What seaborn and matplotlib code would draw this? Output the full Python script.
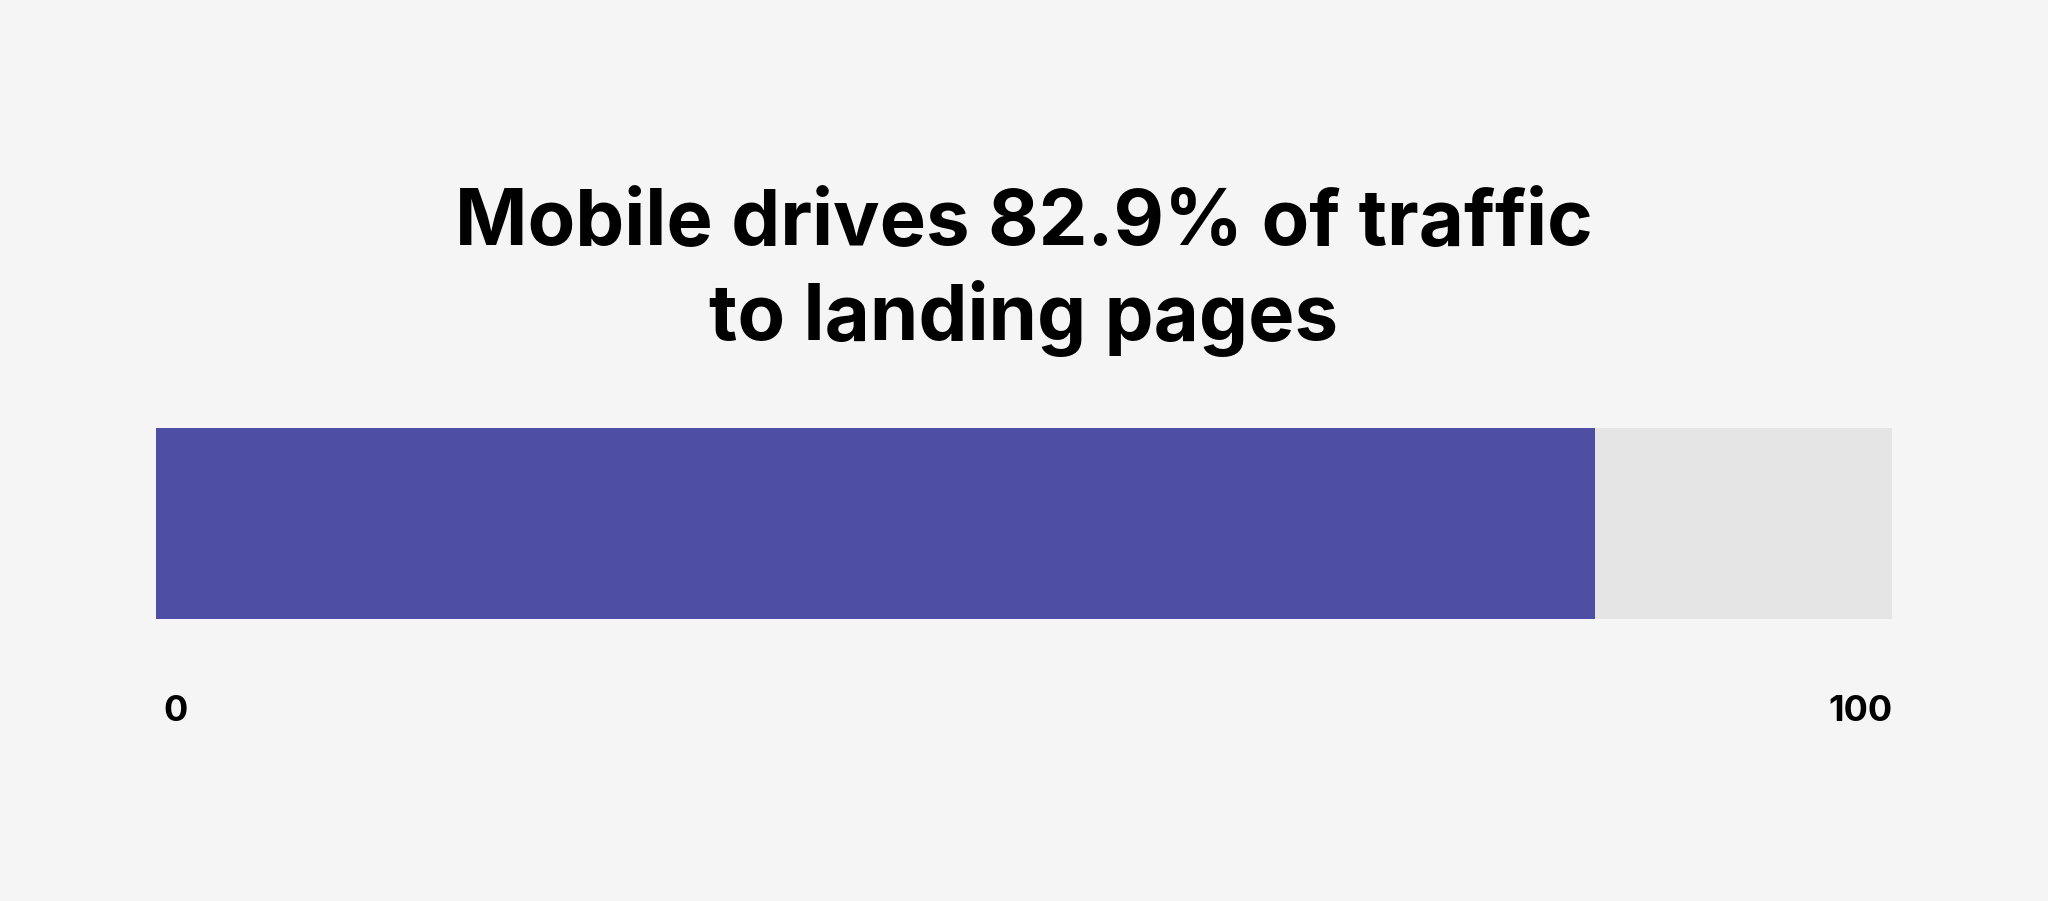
import matplotlib
matplotlib.use("Agg")
import matplotlib.pyplot as plt
import matplotlib.transforms as mtransforms
import seaborn as sns
import pandas as pd

title_lines = ["Mobile drives 82.9% of traffic", "to landing pages"]
categories = ["Mobile"]
share = [82.9]
total = [100]
tick_values = [0, 100]
tick_labels = ["0", "100"]

bg = "#f5f5f5"
purple = "#4e4fa4"
track = "#e5e5e5"

sns.set_theme(style="white")
plt.rcParams["font.family"] = ["Inter", "DejaVu Sans"]

df = pd.DataFrame({"category": categories, "share": share, "total": total})

fig = plt.figure(figsize=(20.48, 9.01), dpi=100, facecolor=bg)
ax = fig.add_axes([156 / 2048, 1 - 619 / 901, (1892 - 156) / 2048, (619 - 428) / 901])
ax.set_facecolor(bg)

sns.barplot(data=df, x="total", y="category", orient="h", color=track, width=1,
            saturation=1, linewidth=0, ax=ax)
sns.barplot(data=df, x="share", y="category", orient="h", color=purple, width=1,
            saturation=1, linewidth=0, ax=ax)

ax.set_xlim(0, 100)
ax.set_ylim(0.5, -0.5)
ax.set_yticks([])
ax.set_xlabel("")
ax.set_ylabel("")
for s in ax.spines.values():
    s.set_visible(False)

ax.set_xticks(tick_values)
ax.set_xticklabels(tick_labels, fontsize=26, fontweight="bold", color="black")
ax.tick_params(axis="x", length=0, pad=55)
labels = ax.get_xticklabels()
labels[0].set_ha("left")
labels[0].set_transform(labels[0].get_transform() +
                        mtransforms.ScaledTranslation(7 / 100, 0, fig.dpi_scale_trans))
labels[-1].set_ha("right")

fig.text(0.5, 1 - 245 / 901, title_lines[0], ha="center", va="baseline",
         fontsize=56, fontweight="bold", color="black")
fig.text(0.5, 1 - 340 / 901, title_lines[1], ha="center", va="baseline",
         fontsize=56, fontweight="bold", color="black")

fig.savefig("out.png", dpi=100, facecolor=bg)
